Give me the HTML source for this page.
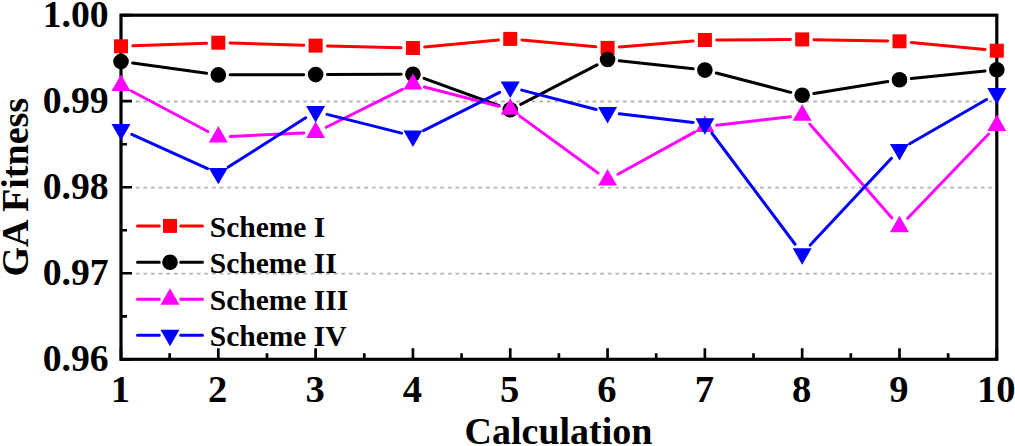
<!DOCTYPE html>
<html><head><meta charset="utf-8"><style>
html,body{margin:0;padding:0;background:#fff;width:1015px;height:446px;overflow:hidden}
svg{display:block}
.tl{font-family:"Liberation Serif",serif;font-weight:bold;font-size:38.6px;fill:#000}
.lg{font-family:"Liberation Serif",serif;font-weight:bold;font-size:29.5px;fill:#000}
</style></head><body>
<svg width="1015" height="446" viewBox="0 0 1015 446">
<line x1="135.8" y1="273.57" x2="992.2" y2="273.57" stroke="#b4b4b4" stroke-width="1.8" stroke-dasharray="3.8 3.812"/>
<line x1="135.8" y1="187.55" x2="992.2" y2="187.55" stroke="#b4b4b4" stroke-width="1.8" stroke-dasharray="3.8 3.812"/>
<line x1="135.8" y1="101.52" x2="992.2" y2="101.52" stroke="#b4b4b4" stroke-width="1.8" stroke-dasharray="3.8 3.812"/>
<path d="M121.00 359.3V348.3M218.31 359.3V348.3M315.62 359.3V348.3M412.93 359.3V348.3M510.24 359.3V348.3M607.56 359.3V348.3M704.87 359.3V348.3M802.18 359.3V348.3M899.49 359.3V348.3M996.80 359.3V348.3M169.66 359.3V353.3M266.97 359.3V353.3M364.28 359.3V353.3M461.59 359.3V353.3M558.90 359.3V353.3M656.21 359.3V353.3M753.52 359.3V353.3M850.83 359.3V353.3M948.14 359.3V353.3M121.0 359.30H132.0M121.0 273.27H132.0M121.0 187.25H132.0M121.0 101.22H132.0M121.0 15.20H132.0M121.0 316.29H127.0M121.0 230.26H127.0M121.0 144.24H127.0M121.0 58.21H127.0" stroke="#000" stroke-width="2.7" fill="none"/>
<rect x="121.0" y="15.2" width="875.80" height="344.10" stroke="#000" stroke-width="3.2" fill="none"/>
<path d="M132.79 45.86L206.52 43.14M230.11 43.05L303.83 45.25M327.42 45.89L401.14 47.71M424.68 46.90L498.50 40.00M521.99 39.99L595.81 46.81M619.32 46.95L693.11 40.95M716.67 39.93L790.38 39.47M813.98 39.63L887.69 41.07M911.23 42.43L985.05 49.57" stroke="#ff0000" stroke-width="3.0" stroke-linecap="round" fill="none"/>
<rect x="114.00" y="39.30" width="14.0" height="14.0" fill="#ff0000"/>
<rect x="211.31" y="35.70" width="14.0" height="14.0" fill="#ff0000"/>
<rect x="308.62" y="38.60" width="14.0" height="14.0" fill="#ff0000"/>
<rect x="405.93" y="41.00" width="14.0" height="14.0" fill="#ff0000"/>
<rect x="503.24" y="31.90" width="14.0" height="14.0" fill="#ff0000"/>
<rect x="600.56" y="40.90" width="14.0" height="14.0" fill="#ff0000"/>
<rect x="697.87" y="33.00" width="14.0" height="14.0" fill="#ff0000"/>
<rect x="795.18" y="32.40" width="14.0" height="14.0" fill="#ff0000"/>
<rect x="892.49" y="34.30" width="14.0" height="14.0" fill="#ff0000"/>
<rect x="989.80" y="43.70" width="14.0" height="14.0" fill="#ff0000"/>
<path d="M132.69 63.11L206.62 73.29M230.11 74.86L303.82 74.64M327.42 74.56L401.13 74.34M424.02 78.34L499.16 105.76M520.73 104.38L597.07 64.92M619.29 60.78L693.14 68.82M716.29 73.06L790.75 92.34M813.83 93.43L887.84 81.57M911.23 78.51L985.06 70.99" stroke="#000000" stroke-width="3.0" stroke-linecap="round" fill="none"/>
<circle cx="121.00" cy="61.50" r="7.8" fill="#000000"/>
<circle cx="218.31" cy="74.90" r="7.8" fill="#000000"/>
<circle cx="315.62" cy="74.60" r="7.8" fill="#000000"/>
<circle cx="412.93" cy="74.30" r="7.8" fill="#000000"/>
<circle cx="510.24" cy="109.80" r="7.8" fill="#000000"/>
<circle cx="607.56" cy="59.50" r="7.8" fill="#000000"/>
<circle cx="704.87" cy="70.10" r="7.8" fill="#000000"/>
<circle cx="802.18" cy="95.30" r="7.8" fill="#000000"/>
<circle cx="899.49" cy="79.70" r="7.8" fill="#000000"/>
<circle cx="996.80" cy="69.80" r="7.8" fill="#000000"/>
<path d="M131.43 91.02L207.88 131.48M230.10 136.45L303.83 133.05M326.19 127.25L402.37 89.35M424.36 87.05L498.82 106.25M519.79 116.14L598.01 172.96M617.90 174.22L694.52 132.18M716.59 125.15L790.46 116.65M809.94 124.19L891.73 217.81M907.67 218.19L988.62 134.01" stroke="#ff00ff" stroke-width="3.0" stroke-linecap="round" fill="none"/>
<path d="M121.00 74.53L130.50 90.98L111.50 90.98Z" fill="#ff00ff"/>
<path d="M218.31 126.03L227.81 142.48L208.81 142.48Z" fill="#ff00ff"/>
<path d="M315.62 121.53L325.12 137.98L306.12 137.98Z" fill="#ff00ff"/>
<path d="M412.93 73.13L422.43 89.58L403.43 89.58Z" fill="#ff00ff"/>
<path d="M510.24 98.23L519.74 114.68L500.74 114.68Z" fill="#ff00ff"/>
<path d="M607.56 168.93L617.06 185.38L598.06 185.38Z" fill="#ff00ff"/>
<path d="M704.87 115.53L714.37 131.98L695.37 131.98Z" fill="#ff00ff"/>
<path d="M802.18 104.33L811.68 120.78L792.68 120.78Z" fill="#ff00ff"/>
<path d="M899.49 215.73L908.99 232.18L889.99 232.18Z" fill="#ff00ff"/>
<path d="M996.80 114.53L1006.30 130.98L987.30 130.98Z" fill="#ff00ff"/>
<path d="M131.76 134.35L207.55 168.55M228.27 167.07L305.67 117.83M327.07 114.38L401.49 133.12M423.48 130.70L499.70 92.40M521.66 90.08L596.14 109.52M619.28 113.86L693.15 122.44M711.94 133.24L795.10 244.26M810.24 245.08L891.43 158.22M909.72 143.71L986.57 99.49" stroke="#0000ff" stroke-width="3.0" stroke-linecap="round" fill="none"/>
<path d="M121.00 140.47L130.50 124.02L111.50 124.02Z" fill="#0000ff"/>
<path d="M218.31 184.37L227.81 167.92L208.81 167.92Z" fill="#0000ff"/>
<path d="M315.62 122.47L325.12 106.02L306.12 106.02Z" fill="#0000ff"/>
<path d="M412.93 146.97L422.43 130.52L403.43 130.52Z" fill="#0000ff"/>
<path d="M510.24 98.07L519.74 81.62L500.74 81.62Z" fill="#0000ff"/>
<path d="M607.56 123.47L617.06 107.02L598.06 107.02Z" fill="#0000ff"/>
<path d="M704.87 134.77L714.37 118.32L695.37 118.32Z" fill="#0000ff"/>
<path d="M802.18 264.67L811.68 248.22L792.68 248.22Z" fill="#0000ff"/>
<path d="M899.49 160.57L908.99 144.12L889.99 144.12Z" fill="#0000ff"/>
<path d="M996.80 104.57L1006.30 88.12L987.30 88.12Z" fill="#0000ff"/>
<path d="M137.5 225.9H159.3M180.7 225.9H202.5" stroke="#ff0000" stroke-width="3.0" stroke-linecap="round"/>
<rect x="163.00" y="218.90" width="14.0" height="14.0" fill="#ff0000"/>
<text x="209.8" y="236.7" class="lg">Scheme I</text>
<path d="M137.5 262.2H159.3M180.7 262.2H202.5" stroke="#000000" stroke-width="3.0" stroke-linecap="round"/>
<circle cx="170.00" cy="262.20" r="7.8" fill="#000000"/>
<text x="209.8" y="273.0" class="lg">Scheme II</text>
<path d="M137.5 299.2H159.3M180.7 299.2H202.5" stroke="#ff00ff" stroke-width="3.0" stroke-linecap="round"/>
<path d="M170.00 288.23L179.50 304.68L160.50 304.68Z" fill="#ff00ff"/>
<text x="209.8" y="310.0" class="lg">Scheme III</text>
<path d="M137.5 335.2H159.3M180.7 335.2H202.5" stroke="#0000ff" stroke-width="3.0" stroke-linecap="round"/>
<path d="M170.00 346.17L179.50 329.72L160.50 329.72Z" fill="#0000ff"/>
<text x="209.8" y="346.0" class="lg">Scheme IV</text>
<text transform="translate(108.6 370.60) scale(0.977 1)" class="tl" text-anchor="end">0.96</text>
<text transform="translate(108.6 284.57) scale(0.977 1)" class="tl" text-anchor="end">0.97</text>
<text transform="translate(108.6 198.55) scale(0.977 1)" class="tl" text-anchor="end">0.98</text>
<text transform="translate(108.6 112.52) scale(0.977 1)" class="tl" text-anchor="end">0.99</text>
<text transform="translate(108.6 26.50) scale(0.977 1)" class="tl" text-anchor="end">1.00</text>
<text transform="translate(120.40 401.8)" class="tl" text-anchor="middle">1</text>
<text transform="translate(217.71 401.8)" class="tl" text-anchor="middle">2</text>
<text transform="translate(315.02 401.8)" class="tl" text-anchor="middle">3</text>
<text transform="translate(412.33 401.8)" class="tl" text-anchor="middle">4</text>
<text transform="translate(509.64 401.8)" class="tl" text-anchor="middle">5</text>
<text transform="translate(606.96 401.8)" class="tl" text-anchor="middle">6</text>
<text transform="translate(704.27 401.8)" class="tl" text-anchor="middle">7</text>
<text transform="translate(801.58 401.8)" class="tl" text-anchor="middle">8</text>
<text transform="translate(898.89 401.8)" class="tl" text-anchor="middle">9</text>
<text transform="translate(996.20 401.8)" class="tl" text-anchor="middle">10</text>
<text x="558.5" y="444" class="tl" style="font-size:38px" text-anchor="middle">Calculation</text>
<text transform="translate(27.8 187.2) rotate(-90)" class="tl" style="font-size:38.1px" text-anchor="middle">GA Fitness</text>
</svg></body></html>
